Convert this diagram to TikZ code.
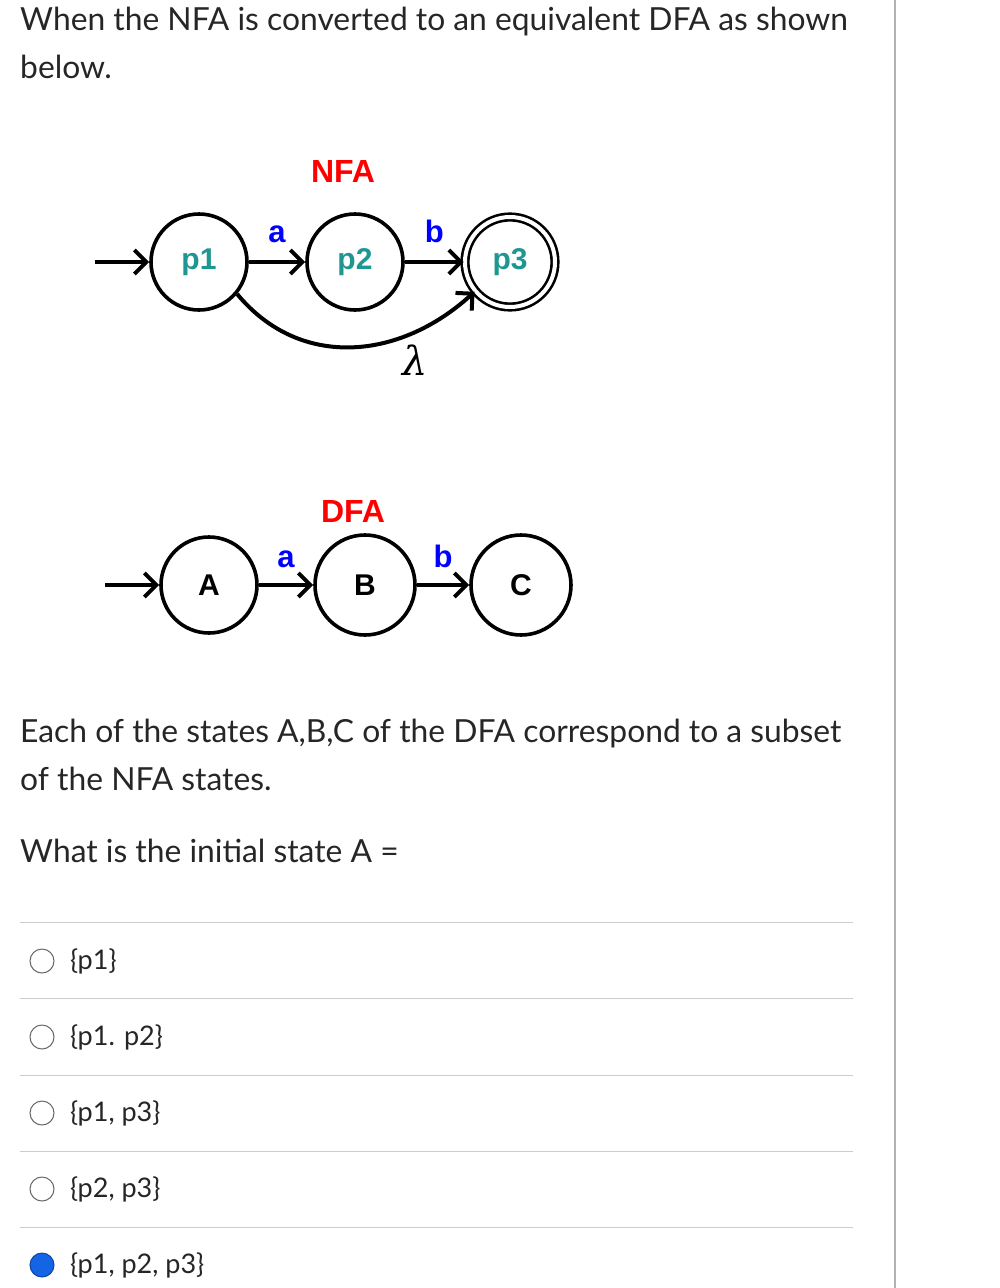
\documentclass[tikz,border=0pt]{standalone}
\usepackage{fontspec}
\setmainfont{Lato}
\newfontfamily\arl{Liberation Sans}
\newfontfamily\lmb{DejaVu Serif}
\usetikzlibrary{arrows.meta}
\definecolor{teal2}{RGB}{30,150,145}
\definecolor{sel}{RGB}{20,100,230}
\begin{document}
\begin{tikzpicture}[x=1pt,y=-1pt,
  st/.style={circle,draw,line width=3.6pt,minimum size=96pt,inner sep=0pt,font=\arl\fontsize{30}{32}\selectfont\bfseries},
  ar/.style={line width=4pt,-{Straight Barb[length=12pt,width=24pt,line width=4pt]}},
  lb/.style={font=\arl\fontsize{31}{33}\selectfont\bfseries,text=blue},
  ttl/.style={font=\arl\fontsize{32}{34}\selectfont\bfseries,text=red},
  txt/.style={anchor=base west,inner sep=0pt,font=\fontsize{31.8}{34}\selectfont,text=black!85},
  opt/.style={anchor=base west,inner sep=0pt,font=\fontsize{27}{30}\selectfont,text=black!85},
  rad/.style={circle,draw=black!60,line width=1pt,minimum size=24pt,inner sep=0pt},
  sepl/.style={draw=black!20,line width=1pt}]
\useasboundingbox (0,0) rectangle (1000,1288);
\fill[white] (0,0) rectangle (1000,1288);
\draw[black!30,line width=1.5pt] (895,0) -- (895,1288);
\node[txt] (t1) at (20,30) {When the NFA is converted to an equivalent DFA as shown};
\node[txt] (t2) at (20,78) {below.};
% NFA
\node[ttl] (nfa) at (343,171) {NFA};
\node[st,text=teal2] (p1) at (199,262) {p1};
\node[st,text=teal2] (p2) at (355,262) {p2};
\node[st,text=teal2,double,double distance=4pt,line width=2.6pt,minimum size=90pt] (p3) at (510,262) {p3};
\coordinate (s1) at (95,262);
\draw[ar] (s1) -- (p1);
\draw[ar] (p1) -- node[lb,above=14pt]{a} (p2);
\draw[ar] (p2) -- node[lb,above=14pt]{b} (p3);
\draw[ar] (p1.-40) .. controls (300,370) and (400,360) .. (p3.-140);
\node[font=\lmb\fontsize{40}{40}\selectfont\itshape] (lam) at (415,360) {λ};
% DFA
\node[ttl] (dfa) at (353,511) {DFA};
\node[st] (A) at (209,585) {A};
\node[st,minimum size=100pt] (B) at (365,585) {B};
\node[st,minimum size=100pt] (C) at (521,585) {C};
\coordinate (s2) at (105,585);
\draw[ar] (s2) -- (A);
\draw[ar] (A) -- node[lb,above=12pt]{a} (B);
\draw[ar] (B) -- node[lb,above=12pt]{b} (C);
% text
\node[txt] (t3) at (20,742) {Each of the states A,B,C of the DFA correspond to a subset};
\node[txt] (t4) at (20,790) {of the NFA states.};
\node[txt] (t5) at (20,862) {What is the initial state A =};
% options
\foreach \y in {922,998,1075,1151,1227} \draw[sepl] (20,\y) -- (853,\y);
\node[rad] (r1) at (42,961) {};
\node[rad] (r2) at (42,1037) {};
\node[rad] (r3) at (42,1113) {};
\node[rad] (r4) at (42,1189) {};
\node[rad,fill=sel,draw=sel!70!black] (r5) at (42,1265) {};
\node[opt] (o1) at (70,969) {\{p1\}};
\node[opt] (o2) at (70,1045) {\{p1. p2\}};
\node[opt] (o3) at (70,1121) {\{p1, p3\}};
\node[opt] (o4) at (70,1197) {\{p2, p3\}};
\node[opt] (o5) at (70,1273) {\{p1, p2, p3\}};
\end{tikzpicture}
\end{document}
